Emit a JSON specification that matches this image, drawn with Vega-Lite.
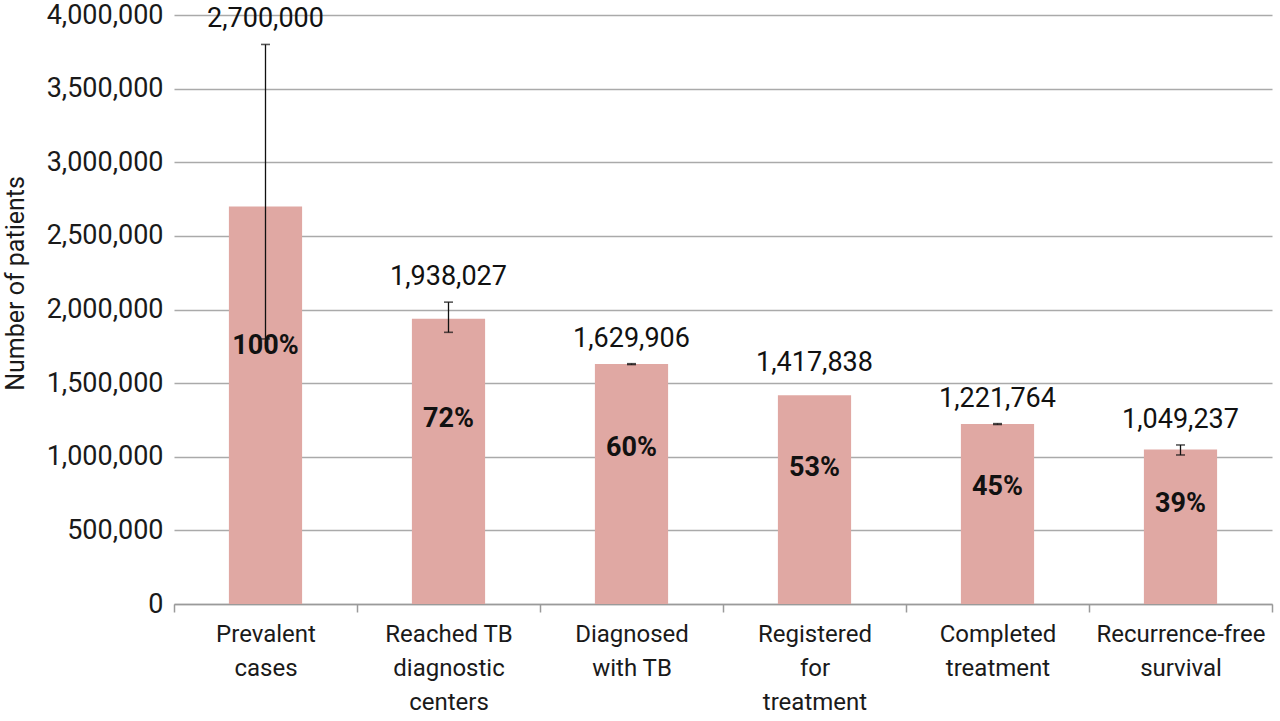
{
  "$schema": "https://vega.github.io/schema/vega-lite/v6.json",
  "width": 1098,
  "height": 589,
  "autosize": "none",
  "padding": {"left": 174, "top": 15, "right": 8, "bottom": 117},
  "background": "white",
  "config": {
    "view": {"stroke": null},
    "font": "Roboto",
    "text": {"font": "Roboto"}
  },
  "data": {
    "values": [
      {"stage": "Prevalent|cases", "value": 2700000, "lo": 1800000, "hi": 3800000, "label": "2,700,000", "pct": "100%"},
      {"stage": "Reached TB|diagnostic|centers", "value": 1938027, "lo": 1845000, "hi": 2050000, "label": "1,938,027", "pct": "72%"},
      {"stage": "Diagnosed|with TB", "value": 1629906, "lo": 1626000, "hi": 1632000, "label": "1,629,906", "pct": "60%"},
      {"stage": "Registered|for|treatment", "value": 1417838, "lo": null, "hi": null, "label": "1,417,838", "pct": "53%"},
      {"stage": "Completed|treatment", "value": 1221764, "lo": 1219000, "hi": 1225000, "label": "1,221,764", "pct": "45%"},
      {"stage": "Recurrence-free|survival", "value": 1049237, "lo": 1012000, "hi": 1080000, "label": "1,049,237", "pct": "39%"}
    ]
  },
  "encoding": {
    "x": {
      "field": "stage",
      "type": "nominal",
      "sort": null,
      "scale": {"paddingInner": 0, "paddingOuter": 0},
      "axis": {
        "title": null,
        "labelAngle": 0,
        "labelExpr": "split(datum.label, '|')",
        "labelFont": "Roboto",
        "labelFontSize": 24,
        "labelColor": "#1a1a1a",
        "labelLineHeight": 34,
        "labelPadding": 10,
        "tickBand": "extent",
        "tickSize": 8,
        "tickColor": "#9a9a9a",
        "tickWidth": 1.5,
        "domainColor": "#9a9a9a",
        "domainWidth": 1.5,
        "grid": false
      }
    }
  },
  "layer": [
    {
      "layer": [
        {
          "mark": {"type": "bar", "color": "#e0a8a3", "width": {"band": 0.4}},
          "encoding": {
            "y": {
              "field": "value",
              "type": "quantitative",
              "scale": {"domain": [0, 4000000], "nice": false},
              "axis": {
                "title": "Number of patients",
                "titleFont": "Roboto",
                "titleFontSize": 25,
                "titleFontWeight": "normal",
                "titleColor": "#1a1a1a",
                "titleX": -159,
                "titleY": 268,
                "titleAngle": -90,
                "titleAlign": "center",
                "titleBaseline": "middle",
                "values": [0, 500000, 1000000, 1500000, 2000000, 2500000, 3000000, 3500000, 4000000],
                "labelExpr": "format(datum.value, ',')",
                "labelFont": "Roboto",
                "labelFontSize": 27,
                "labelColor": "#1a1a1a",
                "labelPadding": 11,
                "ticks": false,
                "domain": false,
                "grid": true,
                "gridColor": "#aaaaaa",
                "gridWidth": 1.5
              }
            }
          }
        },
        {
          "transform": [{"filter": "isValid(datum.lo)"}],
          "mark": {"type": "rule", "color": "#111111", "strokeWidth": 1.3},
          "encoding": {
            "y": {"field": "lo", "type": "quantitative", "scale": {"domain": [0, 4000000], "nice": false}},
            "y2": {"field": "hi"}
          }
        },
        {
          "transform": [{"filter": "isValid(datum.lo)"}],
          "mark": {"type": "tick", "color": "#111111", "size": 9, "thickness": 1.6},
          "encoding": {
            "y": {"field": "lo", "type": "quantitative", "scale": {"domain": [0, 4000000], "nice": false}}
          }
        },
        {
          "transform": [{"filter": "isValid(datum.hi)"}],
          "mark": {"type": "tick", "color": "#111111", "size": 9, "thickness": 1.6},
          "encoding": {
            "y": {"field": "hi", "type": "quantitative", "scale": {"domain": [0, 4000000], "nice": false}}
          }
        },
        {
          "transform": [{"filter": "isValid(datum.hi)"}],
          "mark": {"type": "text", "fontSize": 27, "color": "#111111", "baseline": "bottom", "dy": -11, "font": "Roboto"},
          "encoding": {
            "y": {"field": "hi", "type": "quantitative", "scale": {"domain": [0, 4000000], "nice": false}},
            "text": {"field": "label"}
          }
        },
        {
          "transform": [{"filter": "!isValid(datum.hi)"}],
          "mark": {"type": "text", "fontSize": 27, "color": "#111111", "baseline": "bottom", "dy": -18, "font": "Roboto"},
          "encoding": {
            "y": {"field": "value", "type": "quantitative", "scale": {"domain": [0, 4000000], "nice": false}},
            "text": {"field": "label"}
          }
        }
      ]
    },
    {
      "mark": {"type": "text", "fontSize": 27, "fontWeight": "bold", "color": "#111111", "baseline": "middle", "font": "Roboto"},
      "encoding": {
        "y": {"field": "value", "type": "quantitative", "scale": {"domain": [0, 6153846], "nice": false}, "axis": null},
        "text": {"field": "pct"}
      }
    }
  ],
  "resolve": {"scale": {"y": "independent"}}
}
